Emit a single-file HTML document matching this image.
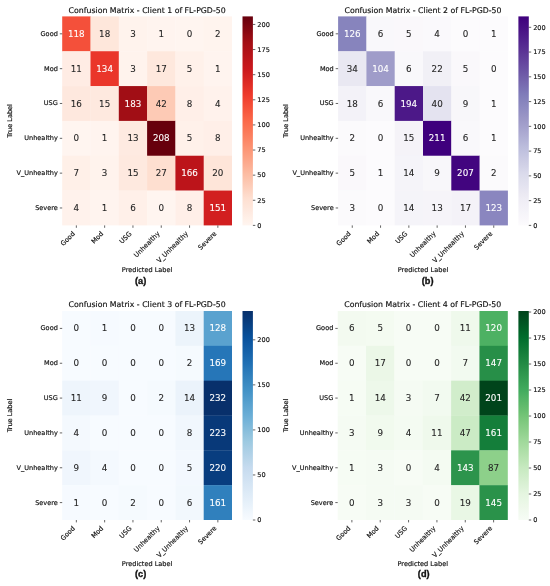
<!DOCTYPE html>
<html lang="en"><head><meta charset="utf-8"><title>Confusion Matrices FL-PGD-50</title>
<style>html,body{margin:0;padding:0;background:#fff}svg{display:block}text{font-family:"DejaVu Sans","Liberation Sans",sans-serif;fill:#111;stroke:#111;stroke-width:0.16px}.t{font-size:7.8px}.k{font-size:6.55px}.l{font-size:6.55px}.a{font-size:8.75px;text-anchor:middle;fill:#262626;stroke:#262626;stroke-width:0.1px}.a.w{fill:#fff;stroke:#fff}.s{font-family:"Liberation Sans",sans-serif;font-weight:bold;font-size:9.2px;text-anchor:middle;fill:#111;stroke:#111;stroke-width:0.35px}.e{text-anchor:end}.m{text-anchor:middle}</style></head><body>
<svg width="550" height="586" viewBox="0 0 550 586">
<rect width="550" height="586" fill="#fff"/>
<defs>
<linearGradient id="g1" x1="0" y1="0" x2="0" y2="1"><stop offset="0" stop-color="#67000d"/><stop offset="0.0312" stop-color="#75030f"/><stop offset="0.0625" stop-color="#840711"/><stop offset="0.0938" stop-color="#940b13"/><stop offset="0.125" stop-color="#a30f15"/><stop offset="0.1562" stop-color="#ad1117"/><stop offset="0.1875" stop-color="#b71319"/><stop offset="0.2188" stop-color="#c1161b"/><stop offset="0.25" stop-color="#ca181d"/><stop offset="0.2812" stop-color="#d32020"/><stop offset="0.3125" stop-color="#dc2924"/><stop offset="0.3438" stop-color="#e53228"/><stop offset="0.375" stop-color="#ee3a2c"/><stop offset="0.4062" stop-color="#f24633"/><stop offset="0.4375" stop-color="#f5523a"/><stop offset="0.4688" stop-color="#f85d42"/><stop offset="0.5" stop-color="#fb694a"/><stop offset="0.5312" stop-color="#fb7353"/><stop offset="0.5625" stop-color="#fb7d5d"/><stop offset="0.5938" stop-color="#fc8767"/><stop offset="0.625" stop-color="#fc9272"/><stop offset="0.6562" stop-color="#fc9c7d"/><stop offset="0.6875" stop-color="#fca689"/><stop offset="0.7188" stop-color="#fcb095"/><stop offset="0.75" stop-color="#fcbba1"/><stop offset="0.7812" stop-color="#fcc4ad"/><stop offset="0.8125" stop-color="#fdcdb9"/><stop offset="0.8438" stop-color="#fdd7c6"/><stop offset="0.875" stop-color="#fee0d2"/><stop offset="0.9062" stop-color="#fee5d9"/><stop offset="0.9375" stop-color="#feeae1"/><stop offset="0.9688" stop-color="#fff0e8"/><stop offset="1" stop-color="#fff5f0"/></linearGradient>
<linearGradient id="g2" x1="0" y1="0" x2="0" y2="1"><stop offset="0" stop-color="#3f007d"/><stop offset="0.0312" stop-color="#440981"/><stop offset="0.0625" stop-color="#491285"/><stop offset="0.0938" stop-color="#4e1c8a"/><stop offset="0.125" stop-color="#53268f"/><stop offset="0.1562" stop-color="#593093"/><stop offset="0.1875" stop-color="#5e3b98"/><stop offset="0.2188" stop-color="#64459e"/><stop offset="0.25" stop-color="#6950a3"/><stop offset="0.2812" stop-color="#6f5ba8"/><stop offset="0.3125" stop-color="#7566ae"/><stop offset="0.3438" stop-color="#7a71b4"/><stop offset="0.375" stop-color="#807cba"/><stop offset="0.4062" stop-color="#8784bd"/><stop offset="0.4375" stop-color="#8e8bc1"/><stop offset="0.4688" stop-color="#9692c4"/><stop offset="0.5" stop-color="#9e9ac8"/><stop offset="0.5312" stop-color="#a5a2cd"/><stop offset="0.5625" stop-color="#adabd2"/><stop offset="0.5938" stop-color="#b4b4d7"/><stop offset="0.625" stop-color="#bcbddc"/><stop offset="0.6562" stop-color="#c3c4e0"/><stop offset="0.6875" stop-color="#cbcbe3"/><stop offset="0.7188" stop-color="#d2d2e7"/><stop offset="0.75" stop-color="#dadaeb"/><stop offset="0.7812" stop-color="#dfdfed"/><stop offset="0.8125" stop-color="#e4e3f0"/><stop offset="0.8438" stop-color="#eae8f2"/><stop offset="0.875" stop-color="#efedf5"/><stop offset="0.9062" stop-color="#f2f0f7"/><stop offset="0.9375" stop-color="#f5f4f9"/><stop offset="0.9688" stop-color="#f9f7fb"/><stop offset="1" stop-color="#fcfbfd"/></linearGradient>
<linearGradient id="g3" x1="0" y1="0" x2="0" y2="1"><stop offset="0" stop-color="#08306b"/><stop offset="0.0312" stop-color="#083776"/><stop offset="0.0625" stop-color="#084082"/><stop offset="0.0938" stop-color="#08488e"/><stop offset="0.125" stop-color="#08509b"/><stop offset="0.1562" stop-color="#0e58a2"/><stop offset="0.1875" stop-color="#1460a8"/><stop offset="0.2188" stop-color="#1a68ae"/><stop offset="0.25" stop-color="#2070b4"/><stop offset="0.2812" stop-color="#2979b9"/><stop offset="0.3125" stop-color="#3181bd"/><stop offset="0.3438" stop-color="#3989c1"/><stop offset="0.375" stop-color="#4191c6"/><stop offset="0.4062" stop-color="#4b98ca"/><stop offset="0.4375" stop-color="#56a0ce"/><stop offset="0.4688" stop-color="#60a7d2"/><stop offset="0.5" stop-color="#6aaed6"/><stop offset="0.5312" stop-color="#77b5d9"/><stop offset="0.5625" stop-color="#84bcdb"/><stop offset="0.5938" stop-color="#91c3de"/><stop offset="0.625" stop-color="#9dcae1"/><stop offset="0.6562" stop-color="#a8cee4"/><stop offset="0.6875" stop-color="#b2d2e8"/><stop offset="0.7188" stop-color="#bcd7eb"/><stop offset="0.75" stop-color="#c6dbef"/><stop offset="0.7812" stop-color="#ccdff1"/><stop offset="0.8125" stop-color="#d2e3f3"/><stop offset="0.8438" stop-color="#d8e7f5"/><stop offset="0.875" stop-color="#deebf7"/><stop offset="0.9062" stop-color="#e4eff9"/><stop offset="0.9375" stop-color="#eaf3fb"/><stop offset="0.9688" stop-color="#f1f7fd"/><stop offset="1" stop-color="#f7fbff"/></linearGradient>
<linearGradient id="g4" x1="0" y1="0" x2="0" y2="1"><stop offset="0" stop-color="#00441b"/><stop offset="0.0312" stop-color="#004d1f"/><stop offset="0.0625" stop-color="#005723"/><stop offset="0.0938" stop-color="#006227"/><stop offset="0.125" stop-color="#006c2c"/><stop offset="0.1562" stop-color="#087432"/><stop offset="0.1875" stop-color="#117b38"/><stop offset="0.2188" stop-color="#19833e"/><stop offset="0.25" stop-color="#228a44"/><stop offset="0.2812" stop-color="#2a924a"/><stop offset="0.3125" stop-color="#319a50"/><stop offset="0.3438" stop-color="#39a257"/><stop offset="0.375" stop-color="#40aa5d"/><stop offset="0.4062" stop-color="#4db163"/><stop offset="0.4375" stop-color="#5ab769"/><stop offset="0.4688" stop-color="#66bd6f"/><stop offset="0.5" stop-color="#73c476"/><stop offset="0.5312" stop-color="#7fc97f"/><stop offset="0.5625" stop-color="#8ace88"/><stop offset="0.5938" stop-color="#95d391"/><stop offset="0.625" stop-color="#a0d99b"/><stop offset="0.6562" stop-color="#aadda4"/><stop offset="0.6875" stop-color="#b4e1ad"/><stop offset="0.7188" stop-color="#bde5b6"/><stop offset="0.75" stop-color="#c7e9c0"/><stop offset="0.7812" stop-color="#ceecc8"/><stop offset="0.8125" stop-color="#d6efd0"/><stop offset="0.8438" stop-color="#ddf2d8"/><stop offset="0.875" stop-color="#e5f5e0"/><stop offset="0.9062" stop-color="#e9f7e5"/><stop offset="0.9375" stop-color="#eef8ea"/><stop offset="0.9688" stop-color="#f2faf0"/><stop offset="1" stop-color="#f7fcf5"/></linearGradient>
</defs>
<g>
<text class="t m" x="147.1" y="12.6">Confusion Matrix - Client 1 of FL-PGD-50</text>
<rect x="62.2" y="16.4" width="28.6" height="35.13" fill="#f4503a"/>
<rect x="90.5" y="16.4" width="28.6" height="35.13" fill="#fee7db"/>
<rect x="118.8" y="16.4" width="28.6" height="35.13" fill="#fff3ed"/>
<rect x="147.1" y="16.4" width="28.6" height="35.13" fill="#fff4ef"/>
<rect x="175.4" y="16.4" width="28.6" height="35.13" fill="#fff5f0"/>
<rect x="203.7" y="16.4" width="28.3" height="35.13" fill="#fff4ee"/>
<rect x="62.2" y="51.23" width="28.6" height="35.13" fill="#ffece4"/>
<rect x="90.5" y="51.23" width="28.6" height="35.13" fill="#ea362a"/>
<rect x="118.8" y="51.23" width="28.6" height="35.13" fill="#fff3ed"/>
<rect x="147.1" y="51.23" width="28.6" height="35.13" fill="#fee8dd"/>
<rect x="175.4" y="51.23" width="28.6" height="35.13" fill="#fff1ea"/>
<rect x="203.7" y="51.23" width="28.3" height="35.13" fill="#fff4ef"/>
<rect x="62.2" y="86.07" width="28.6" height="35.13" fill="#fee8de"/>
<rect x="90.5" y="86.07" width="28.6" height="35.13" fill="#fee9df"/>
<rect x="118.8" y="86.07" width="28.6" height="35.13" fill="#a10e15"/>
<rect x="147.1" y="86.07" width="28.6" height="35.13" fill="#fdcab5"/>
<rect x="175.4" y="86.07" width="28.6" height="35.13" fill="#ffefe8"/>
<rect x="203.7" y="86.07" width="28.3" height="35.13" fill="#fff2ec"/>
<rect x="62.2" y="120.9" width="28.6" height="35.13" fill="#fff5f0"/>
<rect x="90.5" y="120.9" width="28.6" height="35.13" fill="#fff4ef"/>
<rect x="118.8" y="120.9" width="28.6" height="35.13" fill="#feeae1"/>
<rect x="147.1" y="120.9" width="28.6" height="35.13" fill="#67000d"/>
<rect x="175.4" y="120.9" width="28.6" height="35.13" fill="#fff1ea"/>
<rect x="203.7" y="120.9" width="28.3" height="35.13" fill="#ffefe8"/>
<rect x="62.2" y="155.73" width="28.6" height="35.13" fill="#fff0e8"/>
<rect x="90.5" y="155.73" width="28.6" height="35.13" fill="#fff3ed"/>
<rect x="118.8" y="155.73" width="28.6" height="35.13" fill="#fee9df"/>
<rect x="147.1" y="155.73" width="28.6" height="35.13" fill="#fedfd0"/>
<rect x="175.4" y="155.73" width="28.6" height="35.13" fill="#bc141a"/>
<rect x="203.7" y="155.73" width="28.3" height="35.13" fill="#fee5d9"/>
<rect x="62.2" y="190.57" width="28.6" height="34.83" fill="#fff2ec"/>
<rect x="90.5" y="190.57" width="28.6" height="34.83" fill="#fff4ef"/>
<rect x="118.8" y="190.57" width="28.6" height="34.83" fill="#fff0e9"/>
<rect x="147.1" y="190.57" width="28.6" height="34.83" fill="#fff5f0"/>
<rect x="175.4" y="190.57" width="28.6" height="34.83" fill="#ffefe8"/>
<rect x="203.7" y="190.57" width="28.3" height="34.83" fill="#d21f20"/>
<text class="a w" x="76.35" y="36.88">118</text>
<text class="a" x="104.65" y="36.88">18</text>
<text class="a" x="132.95" y="36.88">3</text>
<text class="a" x="161.25" y="36.88">1</text>
<text class="a" x="189.55" y="36.88">0</text>
<text class="a" x="217.85" y="36.88">2</text>
<text class="a" x="76.35" y="71.71">11</text>
<text class="a w" x="104.65" y="71.71">134</text>
<text class="a" x="132.95" y="71.71">3</text>
<text class="a" x="161.25" y="71.71">17</text>
<text class="a" x="189.55" y="71.71">5</text>
<text class="a" x="217.85" y="71.71">1</text>
<text class="a" x="76.35" y="106.55">16</text>
<text class="a" x="104.65" y="106.55">15</text>
<text class="a w" x="132.95" y="106.55">183</text>
<text class="a" x="161.25" y="106.55">42</text>
<text class="a" x="189.55" y="106.55">8</text>
<text class="a" x="217.85" y="106.55">4</text>
<text class="a" x="76.35" y="141.38">0</text>
<text class="a" x="104.65" y="141.38">1</text>
<text class="a" x="132.95" y="141.38">13</text>
<text class="a w" x="161.25" y="141.38">208</text>
<text class="a" x="189.55" y="141.38">5</text>
<text class="a" x="217.85" y="141.38">8</text>
<text class="a" x="76.35" y="176.21">7</text>
<text class="a" x="104.65" y="176.21">3</text>
<text class="a" x="132.95" y="176.21">15</text>
<text class="a" x="161.25" y="176.21">27</text>
<text class="a w" x="189.55" y="176.21">166</text>
<text class="a" x="217.85" y="176.21">20</text>
<text class="a" x="76.35" y="211.05">4</text>
<text class="a" x="104.65" y="211.05">1</text>
<text class="a" x="132.95" y="211.05">6</text>
<text class="a" x="161.25" y="211.05">0</text>
<text class="a" x="189.55" y="211.05">8</text>
<text class="a w" x="217.85" y="211.05">151</text>
<line x1="59.8" x2="62.2" y1="33.82" y2="33.82" stroke="#111" stroke-width="0.65"/>
<text class="k e" x="57.8" y="35.78">Good</text>
<line x1="59.8" x2="62.2" y1="68.65" y2="68.65" stroke="#111" stroke-width="0.65"/>
<text class="k e" x="57.8" y="70.62">Mod</text>
<line x1="59.8" x2="62.2" y1="103.48" y2="103.48" stroke="#111" stroke-width="0.65"/>
<text class="k e" x="57.8" y="105.45">USG</text>
<line x1="59.8" x2="62.2" y1="138.32" y2="138.32" stroke="#111" stroke-width="0.65"/>
<text class="k e" x="57.8" y="140.28">Unhealthy</text>
<line x1="59.8" x2="62.2" y1="173.15" y2="173.15" stroke="#111" stroke-width="0.65"/>
<text class="k e" x="57.8" y="175.12">V_Unhealthy</text>
<line x1="59.8" x2="62.2" y1="207.98" y2="207.98" stroke="#111" stroke-width="0.65"/>
<text class="k e" x="57.8" y="209.95">Severe</text>
<line x1="76.35" x2="76.35" y1="225.4" y2="227.8" stroke="#111" stroke-width="0.65"/>
<text class="k e" transform="translate(76.35,235.09) rotate(-45)" x="0" y="-1.38">Good</text>
<line x1="104.65" x2="104.65" y1="225.4" y2="227.8" stroke="#111" stroke-width="0.65"/>
<text class="k e" transform="translate(104.65,235.09) rotate(-45)" x="0" y="-1.38">Mod</text>
<line x1="132.95" x2="132.95" y1="225.4" y2="227.8" stroke="#111" stroke-width="0.65"/>
<text class="k e" transform="translate(132.95,235.09) rotate(-45)" x="0" y="-1.38">USG</text>
<line x1="161.25" x2="161.25" y1="225.4" y2="227.8" stroke="#111" stroke-width="0.65"/>
<text class="k e" transform="translate(161.25,235.09) rotate(-45)" x="0" y="-1.38">Unhealthy</text>
<line x1="189.55" x2="189.55" y1="225.4" y2="227.8" stroke="#111" stroke-width="0.65"/>
<text class="k e" transform="translate(189.55,235.09) rotate(-45)" x="0" y="-1.38">V_Unhealthy</text>
<line x1="217.85" x2="217.85" y1="225.4" y2="227.8" stroke="#111" stroke-width="0.65"/>
<text class="k e" transform="translate(217.85,235.09) rotate(-45)" x="0" y="-1.38">Severe</text>
<text class="l m" x="147.1" y="271.5">Predicted Label</text>
<text class="l m" transform="translate(12.4,120.9) rotate(-90)">True Label</text>
<rect x="242.5" y="16.4" width="10.4" height="209" fill="url(#g1)"/>
<line x1="252.9" x2="255.3" y1="225.4" y2="225.4" stroke="#111" stroke-width="0.65"/>
<text class="k" x="257.3" y="227.69">0</text>
<line x1="252.9" x2="255.3" y1="200.28" y2="200.28" stroke="#111" stroke-width="0.65"/>
<text class="k" x="257.3" y="202.57">25</text>
<line x1="252.9" x2="255.3" y1="175.16" y2="175.16" stroke="#111" stroke-width="0.65"/>
<text class="k" x="257.3" y="177.45">50</text>
<line x1="252.9" x2="255.3" y1="150.04" y2="150.04" stroke="#111" stroke-width="0.65"/>
<text class="k" x="257.3" y="152.33">75</text>
<line x1="252.9" x2="255.3" y1="124.92" y2="124.92" stroke="#111" stroke-width="0.65"/>
<text class="k" x="257.3" y="127.21">100</text>
<line x1="252.9" x2="255.3" y1="99.8" y2="99.8" stroke="#111" stroke-width="0.65"/>
<text class="k" x="257.3" y="102.09">125</text>
<line x1="252.9" x2="255.3" y1="74.68" y2="74.68" stroke="#111" stroke-width="0.65"/>
<text class="k" x="257.3" y="76.97">150</text>
<line x1="252.9" x2="255.3" y1="49.56" y2="49.56" stroke="#111" stroke-width="0.65"/>
<text class="k" x="257.3" y="51.85">175</text>
<line x1="252.9" x2="255.3" y1="24.44" y2="24.44" stroke="#111" stroke-width="0.65"/>
<text class="k" x="257.3" y="26.73">200</text>
<text class="s" x="140.6" y="284.2">(a)</text>
</g>
<g>
<text class="t m" x="423" y="12.6">Confusion Matrix - Client 2 of FL-PGD-50</text>
<rect x="338.1" y="16.4" width="28.6" height="35.13" fill="#8784bd"/>
<rect x="366.4" y="16.4" width="28.6" height="35.13" fill="#f9f8fb"/>
<rect x="394.7" y="16.4" width="28.6" height="35.13" fill="#faf8fb"/>
<rect x="423" y="16.4" width="28.6" height="35.13" fill="#faf9fc"/>
<rect x="451.3" y="16.4" width="28.6" height="35.13" fill="#fcfbfd"/>
<rect x="479.6" y="16.4" width="28.3" height="35.13" fill="#fcfbfd"/>
<rect x="338.1" y="51.23" width="28.6" height="35.13" fill="#e9e8f2"/>
<rect x="366.4" y="51.23" width="28.6" height="35.13" fill="#9f9cc9"/>
<rect x="394.7" y="51.23" width="28.6" height="35.13" fill="#f9f8fb"/>
<rect x="423" y="51.23" width="28.6" height="35.13" fill="#f1f0f6"/>
<rect x="451.3" y="51.23" width="28.6" height="35.13" fill="#faf8fb"/>
<rect x="479.6" y="51.23" width="28.3" height="35.13" fill="#fcfbfd"/>
<rect x="338.1" y="86.07" width="28.6" height="35.13" fill="#f3f2f8"/>
<rect x="366.4" y="86.07" width="28.6" height="35.13" fill="#f9f8fb"/>
<rect x="394.7" y="86.07" width="28.6" height="35.13" fill="#4c1888"/>
<rect x="423" y="86.07" width="28.6" height="35.13" fill="#e4e3f0"/>
<rect x="451.3" y="86.07" width="28.6" height="35.13" fill="#f8f7fa"/>
<rect x="479.6" y="86.07" width="28.3" height="35.13" fill="#fcfbfd"/>
<rect x="338.1" y="120.9" width="28.6" height="35.13" fill="#fbfafc"/>
<rect x="366.4" y="120.9" width="28.6" height="35.13" fill="#fcfbfd"/>
<rect x="394.7" y="120.9" width="28.6" height="35.13" fill="#f5f3f8"/>
<rect x="423" y="120.9" width="28.6" height="35.13" fill="#3f007d"/>
<rect x="451.3" y="120.9" width="28.6" height="35.13" fill="#f9f8fb"/>
<rect x="479.6" y="120.9" width="28.3" height="35.13" fill="#fcfbfd"/>
<rect x="338.1" y="155.73" width="28.6" height="35.13" fill="#faf8fb"/>
<rect x="366.4" y="155.73" width="28.6" height="35.13" fill="#fcfbfd"/>
<rect x="394.7" y="155.73" width="28.6" height="35.13" fill="#f5f4f9"/>
<rect x="423" y="155.73" width="28.6" height="35.13" fill="#f8f7fa"/>
<rect x="451.3" y="155.73" width="28.6" height="35.13" fill="#42057f"/>
<rect x="479.6" y="155.73" width="28.3" height="35.13" fill="#fbfafc"/>
<rect x="338.1" y="190.57" width="28.6" height="34.83" fill="#fbfafc"/>
<rect x="366.4" y="190.57" width="28.6" height="34.83" fill="#fcfbfd"/>
<rect x="394.7" y="190.57" width="28.6" height="34.83" fill="#f5f4f9"/>
<rect x="423" y="190.57" width="28.6" height="34.83" fill="#f6f4f9"/>
<rect x="451.3" y="190.57" width="28.6" height="34.83" fill="#f4f2f8"/>
<rect x="479.6" y="190.57" width="28.3" height="34.83" fill="#8a86bf"/>
<text class="a w" x="352.25" y="36.88">126</text>
<text class="a" x="380.55" y="36.88">6</text>
<text class="a" x="408.85" y="36.88">5</text>
<text class="a" x="437.15" y="36.88">4</text>
<text class="a" x="465.45" y="36.88">0</text>
<text class="a" x="493.75" y="36.88">1</text>
<text class="a" x="352.25" y="71.71">34</text>
<text class="a w" x="380.55" y="71.71">104</text>
<text class="a" x="408.85" y="71.71">6</text>
<text class="a" x="437.15" y="71.71">22</text>
<text class="a" x="465.45" y="71.71">5</text>
<text class="a" x="493.75" y="71.71">0</text>
<text class="a" x="352.25" y="106.55">18</text>
<text class="a" x="380.55" y="106.55">6</text>
<text class="a w" x="408.85" y="106.55">194</text>
<text class="a" x="437.15" y="106.55">40</text>
<text class="a" x="465.45" y="106.55">9</text>
<text class="a" x="493.75" y="106.55">1</text>
<text class="a" x="352.25" y="141.38">2</text>
<text class="a" x="380.55" y="141.38">0</text>
<text class="a" x="408.85" y="141.38">15</text>
<text class="a w" x="437.15" y="141.38">211</text>
<text class="a" x="465.45" y="141.38">6</text>
<text class="a" x="493.75" y="141.38">1</text>
<text class="a" x="352.25" y="176.21">5</text>
<text class="a" x="380.55" y="176.21">1</text>
<text class="a" x="408.85" y="176.21">14</text>
<text class="a" x="437.15" y="176.21">9</text>
<text class="a w" x="465.45" y="176.21">207</text>
<text class="a" x="493.75" y="176.21">2</text>
<text class="a" x="352.25" y="211.05">3</text>
<text class="a" x="380.55" y="211.05">0</text>
<text class="a" x="408.85" y="211.05">14</text>
<text class="a" x="437.15" y="211.05">13</text>
<text class="a" x="465.45" y="211.05">17</text>
<text class="a w" x="493.75" y="211.05">123</text>
<line x1="335.7" x2="338.1" y1="33.82" y2="33.82" stroke="#111" stroke-width="0.65"/>
<text class="k e" x="333.7" y="35.78">Good</text>
<line x1="335.7" x2="338.1" y1="68.65" y2="68.65" stroke="#111" stroke-width="0.65"/>
<text class="k e" x="333.7" y="70.62">Mod</text>
<line x1="335.7" x2="338.1" y1="103.48" y2="103.48" stroke="#111" stroke-width="0.65"/>
<text class="k e" x="333.7" y="105.45">USG</text>
<line x1="335.7" x2="338.1" y1="138.32" y2="138.32" stroke="#111" stroke-width="0.65"/>
<text class="k e" x="333.7" y="140.28">Unhealthy</text>
<line x1="335.7" x2="338.1" y1="173.15" y2="173.15" stroke="#111" stroke-width="0.65"/>
<text class="k e" x="333.7" y="175.12">V_Unhealthy</text>
<line x1="335.7" x2="338.1" y1="207.98" y2="207.98" stroke="#111" stroke-width="0.65"/>
<text class="k e" x="333.7" y="209.95">Severe</text>
<line x1="352.25" x2="352.25" y1="225.4" y2="227.8" stroke="#111" stroke-width="0.65"/>
<text class="k e" transform="translate(352.25,235.09) rotate(-45)" x="0" y="-1.38">Good</text>
<line x1="380.55" x2="380.55" y1="225.4" y2="227.8" stroke="#111" stroke-width="0.65"/>
<text class="k e" transform="translate(380.55,235.09) rotate(-45)" x="0" y="-1.38">Mod</text>
<line x1="408.85" x2="408.85" y1="225.4" y2="227.8" stroke="#111" stroke-width="0.65"/>
<text class="k e" transform="translate(408.85,235.09) rotate(-45)" x="0" y="-1.38">USG</text>
<line x1="437.15" x2="437.15" y1="225.4" y2="227.8" stroke="#111" stroke-width="0.65"/>
<text class="k e" transform="translate(437.15,235.09) rotate(-45)" x="0" y="-1.38">Unhealthy</text>
<line x1="465.45" x2="465.45" y1="225.4" y2="227.8" stroke="#111" stroke-width="0.65"/>
<text class="k e" transform="translate(465.45,235.09) rotate(-45)" x="0" y="-1.38">V_Unhealthy</text>
<line x1="493.75" x2="493.75" y1="225.4" y2="227.8" stroke="#111" stroke-width="0.65"/>
<text class="k e" transform="translate(493.75,235.09) rotate(-45)" x="0" y="-1.38">Severe</text>
<text class="l m" x="423" y="271.5">Predicted Label</text>
<text class="l m" transform="translate(288.3,120.9) rotate(-90)">True Label</text>
<rect x="518.4" y="16.4" width="10.4" height="209" fill="url(#g2)"/>
<line x1="528.8" x2="531.2" y1="225.4" y2="225.4" stroke="#111" stroke-width="0.65"/>
<text class="k" x="533.2" y="227.69">0</text>
<line x1="528.8" x2="531.2" y1="200.64" y2="200.64" stroke="#111" stroke-width="0.65"/>
<text class="k" x="533.2" y="202.93">25</text>
<line x1="528.8" x2="531.2" y1="175.87" y2="175.87" stroke="#111" stroke-width="0.65"/>
<text class="k" x="533.2" y="178.17">50</text>
<line x1="528.8" x2="531.2" y1="151.11" y2="151.11" stroke="#111" stroke-width="0.65"/>
<text class="k" x="533.2" y="153.4">75</text>
<line x1="528.8" x2="531.2" y1="126.35" y2="126.35" stroke="#111" stroke-width="0.65"/>
<text class="k" x="533.2" y="128.64">100</text>
<line x1="528.8" x2="531.2" y1="101.58" y2="101.58" stroke="#111" stroke-width="0.65"/>
<text class="k" x="533.2" y="103.88">125</text>
<line x1="528.8" x2="531.2" y1="76.82" y2="76.82" stroke="#111" stroke-width="0.65"/>
<text class="k" x="533.2" y="79.11">150</text>
<line x1="528.8" x2="531.2" y1="52.06" y2="52.06" stroke="#111" stroke-width="0.65"/>
<text class="k" x="533.2" y="54.35">175</text>
<line x1="528.8" x2="531.2" y1="27.3" y2="27.3" stroke="#111" stroke-width="0.65"/>
<text class="k" x="533.2" y="29.59">200</text>
<text class="s" x="427.65" y="284.2">(b)</text>
</g>
<g>
<text class="t m" x="147.1" y="307.2">Confusion Matrix - Client 3 of FL-PGD-50</text>
<rect x="62.2" y="311" width="28.6" height="35.13" fill="#f7fbff"/>
<rect x="90.5" y="311" width="28.6" height="35.13" fill="#f6faff"/>
<rect x="118.8" y="311" width="28.6" height="35.13" fill="#f7fbff"/>
<rect x="147.1" y="311" width="28.6" height="35.13" fill="#f7fbff"/>
<rect x="175.4" y="311" width="28.6" height="35.13" fill="#ecf4fb"/>
<rect x="203.7" y="311" width="28.3" height="35.13" fill="#5aa2cf"/>
<rect x="62.2" y="345.83" width="28.6" height="35.13" fill="#f7fbff"/>
<rect x="90.5" y="345.83" width="28.6" height="35.13" fill="#f7fbff"/>
<rect x="118.8" y="345.83" width="28.6" height="35.13" fill="#f7fbff"/>
<rect x="147.1" y="345.83" width="28.6" height="35.13" fill="#f7fbff"/>
<rect x="175.4" y="345.83" width="28.6" height="35.13" fill="#f5fafe"/>
<rect x="203.7" y="345.83" width="28.3" height="35.13" fill="#2676b8"/>
<rect x="62.2" y="380.67" width="28.6" height="35.13" fill="#eef5fc"/>
<rect x="90.5" y="380.67" width="28.6" height="35.13" fill="#f0f6fd"/>
<rect x="118.8" y="380.67" width="28.6" height="35.13" fill="#f7fbff"/>
<rect x="147.1" y="380.67" width="28.6" height="35.13" fill="#f5fafe"/>
<rect x="175.4" y="380.67" width="28.6" height="35.13" fill="#ebf3fb"/>
<rect x="203.7" y="380.67" width="28.3" height="35.13" fill="#08306b"/>
<rect x="62.2" y="415.5" width="28.6" height="35.13" fill="#f4f9fe"/>
<rect x="90.5" y="415.5" width="28.6" height="35.13" fill="#f7fbff"/>
<rect x="118.8" y="415.5" width="28.6" height="35.13" fill="#f7fbff"/>
<rect x="147.1" y="415.5" width="28.6" height="35.13" fill="#f7fbff"/>
<rect x="175.4" y="415.5" width="28.6" height="35.13" fill="#f1f7fd"/>
<rect x="203.7" y="415.5" width="28.3" height="35.13" fill="#083979"/>
<rect x="62.2" y="450.33" width="28.6" height="35.13" fill="#f0f6fd"/>
<rect x="90.5" y="450.33" width="28.6" height="35.13" fill="#f4f9fe"/>
<rect x="118.8" y="450.33" width="28.6" height="35.13" fill="#f7fbff"/>
<rect x="147.1" y="450.33" width="28.6" height="35.13" fill="#f7fbff"/>
<rect x="175.4" y="450.33" width="28.6" height="35.13" fill="#f3f8fe"/>
<rect x="203.7" y="450.33" width="28.3" height="35.13" fill="#083d7f"/>
<rect x="62.2" y="485.17" width="28.6" height="34.83" fill="#f6faff"/>
<rect x="90.5" y="485.17" width="28.6" height="34.83" fill="#f7fbff"/>
<rect x="118.8" y="485.17" width="28.6" height="34.83" fill="#f5fafe"/>
<rect x="147.1" y="485.17" width="28.6" height="34.83" fill="#f7fbff"/>
<rect x="175.4" y="485.17" width="28.6" height="34.83" fill="#f2f8fd"/>
<rect x="203.7" y="485.17" width="28.3" height="34.83" fill="#3080bd"/>
<text class="a" x="76.35" y="331.48">0</text>
<text class="a" x="104.65" y="331.48">1</text>
<text class="a" x="132.95" y="331.48">0</text>
<text class="a" x="161.25" y="331.48">0</text>
<text class="a" x="189.55" y="331.48">13</text>
<text class="a w" x="217.85" y="331.48">128</text>
<text class="a" x="76.35" y="366.31">0</text>
<text class="a" x="104.65" y="366.31">0</text>
<text class="a" x="132.95" y="366.31">0</text>
<text class="a" x="161.25" y="366.31">0</text>
<text class="a" x="189.55" y="366.31">2</text>
<text class="a w" x="217.85" y="366.31">169</text>
<text class="a" x="76.35" y="401.15">11</text>
<text class="a" x="104.65" y="401.15">9</text>
<text class="a" x="132.95" y="401.15">0</text>
<text class="a" x="161.25" y="401.15">2</text>
<text class="a" x="189.55" y="401.15">14</text>
<text class="a w" x="217.85" y="401.15">232</text>
<text class="a" x="76.35" y="435.98">4</text>
<text class="a" x="104.65" y="435.98">0</text>
<text class="a" x="132.95" y="435.98">0</text>
<text class="a" x="161.25" y="435.98">0</text>
<text class="a" x="189.55" y="435.98">8</text>
<text class="a w" x="217.85" y="435.98">223</text>
<text class="a" x="76.35" y="470.81">9</text>
<text class="a" x="104.65" y="470.81">4</text>
<text class="a" x="132.95" y="470.81">0</text>
<text class="a" x="161.25" y="470.81">0</text>
<text class="a" x="189.55" y="470.81">5</text>
<text class="a w" x="217.85" y="470.81">220</text>
<text class="a" x="76.35" y="505.65">1</text>
<text class="a" x="104.65" y="505.65">0</text>
<text class="a" x="132.95" y="505.65">2</text>
<text class="a" x="161.25" y="505.65">0</text>
<text class="a" x="189.55" y="505.65">6</text>
<text class="a w" x="217.85" y="505.65">161</text>
<line x1="59.8" x2="62.2" y1="328.42" y2="328.42" stroke="#111" stroke-width="0.65"/>
<text class="k e" x="57.8" y="330.38">Good</text>
<line x1="59.8" x2="62.2" y1="363.25" y2="363.25" stroke="#111" stroke-width="0.65"/>
<text class="k e" x="57.8" y="365.21">Mod</text>
<line x1="59.8" x2="62.2" y1="398.08" y2="398.08" stroke="#111" stroke-width="0.65"/>
<text class="k e" x="57.8" y="400.05">USG</text>
<line x1="59.8" x2="62.2" y1="432.92" y2="432.92" stroke="#111" stroke-width="0.65"/>
<text class="k e" x="57.8" y="434.88">Unhealthy</text>
<line x1="59.8" x2="62.2" y1="467.75" y2="467.75" stroke="#111" stroke-width="0.65"/>
<text class="k e" x="57.8" y="469.71">V_Unhealthy</text>
<line x1="59.8" x2="62.2" y1="502.58" y2="502.58" stroke="#111" stroke-width="0.65"/>
<text class="k e" x="57.8" y="504.55">Severe</text>
<line x1="76.35" x2="76.35" y1="520" y2="522.4" stroke="#111" stroke-width="0.65"/>
<text class="k e" transform="translate(76.35,529.69) rotate(-45)" x="0" y="-1.38">Good</text>
<line x1="104.65" x2="104.65" y1="520" y2="522.4" stroke="#111" stroke-width="0.65"/>
<text class="k e" transform="translate(104.65,529.69) rotate(-45)" x="0" y="-1.38">Mod</text>
<line x1="132.95" x2="132.95" y1="520" y2="522.4" stroke="#111" stroke-width="0.65"/>
<text class="k e" transform="translate(132.95,529.69) rotate(-45)" x="0" y="-1.38">USG</text>
<line x1="161.25" x2="161.25" y1="520" y2="522.4" stroke="#111" stroke-width="0.65"/>
<text class="k e" transform="translate(161.25,529.69) rotate(-45)" x="0" y="-1.38">Unhealthy</text>
<line x1="189.55" x2="189.55" y1="520" y2="522.4" stroke="#111" stroke-width="0.65"/>
<text class="k e" transform="translate(189.55,529.69) rotate(-45)" x="0" y="-1.38">V_Unhealthy</text>
<line x1="217.85" x2="217.85" y1="520" y2="522.4" stroke="#111" stroke-width="0.65"/>
<text class="k e" transform="translate(217.85,529.69) rotate(-45)" x="0" y="-1.38">Severe</text>
<text class="l m" x="147.1" y="566.4">Predicted Label</text>
<text class="l m" transform="translate(12.4,415.5) rotate(-90)">True Label</text>
<rect x="242.5" y="311" width="10.4" height="209" fill="url(#g3)"/>
<line x1="252.9" x2="255.3" y1="520" y2="520" stroke="#111" stroke-width="0.65"/>
<text class="k" x="257.3" y="522.29">0</text>
<line x1="252.9" x2="255.3" y1="474.96" y2="474.96" stroke="#111" stroke-width="0.65"/>
<text class="k" x="257.3" y="477.25">50</text>
<line x1="252.9" x2="255.3" y1="429.91" y2="429.91" stroke="#111" stroke-width="0.65"/>
<text class="k" x="257.3" y="432.21">100</text>
<line x1="252.9" x2="255.3" y1="384.87" y2="384.87" stroke="#111" stroke-width="0.65"/>
<text class="k" x="257.3" y="387.16">150</text>
<line x1="252.9" x2="255.3" y1="339.83" y2="339.83" stroke="#111" stroke-width="0.65"/>
<text class="k" x="257.3" y="342.12">200</text>
<text class="s" x="140.6" y="577.4">(c)</text>
</g>
<g>
<text class="t m" x="422.75" y="307.2">Confusion Matrix - Client 4 of FL-PGD-50</text>
<rect x="337.7" y="311" width="28.65" height="35.13" fill="#f3faf0"/>
<rect x="366.05" y="311" width="28.65" height="35.13" fill="#f4fbf1"/>
<rect x="394.4" y="311" width="28.65" height="35.13" fill="#f7fcf5"/>
<rect x="422.75" y="311" width="28.65" height="35.13" fill="#f7fcf5"/>
<rect x="451.1" y="311" width="28.65" height="35.13" fill="#eff9ec"/>
<rect x="479.45" y="311" width="28.35" height="35.13" fill="#4db163"/>
<rect x="337.7" y="345.83" width="28.65" height="35.13" fill="#f7fcf5"/>
<rect x="366.05" y="345.83" width="28.65" height="35.13" fill="#ebf7e7"/>
<rect x="394.4" y="345.83" width="28.65" height="35.13" fill="#f7fcf5"/>
<rect x="422.75" y="345.83" width="28.65" height="35.13" fill="#f7fcf5"/>
<rect x="451.1" y="345.83" width="28.65" height="35.13" fill="#f2faf0"/>
<rect x="479.45" y="345.83" width="28.35" height="35.13" fill="#278f48"/>
<rect x="337.7" y="380.67" width="28.65" height="35.13" fill="#f6fcf4"/>
<rect x="366.05" y="380.67" width="28.65" height="35.13" fill="#edf8ea"/>
<rect x="394.4" y="380.67" width="28.65" height="35.13" fill="#f5fbf3"/>
<rect x="422.75" y="380.67" width="28.65" height="35.13" fill="#f2faf0"/>
<rect x="451.1" y="380.67" width="28.65" height="35.13" fill="#d1edcb"/>
<rect x="479.45" y="380.67" width="28.35" height="35.13" fill="#00441b"/>
<rect x="337.7" y="415.5" width="28.65" height="35.13" fill="#f5fbf3"/>
<rect x="366.05" y="415.5" width="28.65" height="35.13" fill="#f1faee"/>
<rect x="394.4" y="415.5" width="28.65" height="35.13" fill="#f4fbf2"/>
<rect x="422.75" y="415.5" width="28.65" height="35.13" fill="#eff9ec"/>
<rect x="451.1" y="415.5" width="28.65" height="35.13" fill="#cbebc5"/>
<rect x="479.45" y="415.5" width="28.35" height="35.13" fill="#147e3a"/>
<rect x="337.7" y="450.33" width="28.65" height="35.13" fill="#f6fcf4"/>
<rect x="366.05" y="450.33" width="28.65" height="35.13" fill="#f5fbf3"/>
<rect x="394.4" y="450.33" width="28.65" height="35.13" fill="#f7fcf5"/>
<rect x="422.75" y="450.33" width="28.65" height="35.13" fill="#f4fbf2"/>
<rect x="451.1" y="450.33" width="28.65" height="35.13" fill="#2c944c"/>
<rect x="479.45" y="450.33" width="28.35" height="35.13" fill="#8dd08a"/>
<rect x="337.7" y="485.17" width="28.65" height="34.83" fill="#f7fcf5"/>
<rect x="366.05" y="485.17" width="28.65" height="34.83" fill="#f5fbf3"/>
<rect x="394.4" y="485.17" width="28.65" height="34.83" fill="#f5fbf3"/>
<rect x="422.75" y="485.17" width="28.65" height="34.83" fill="#f7fcf5"/>
<rect x="451.1" y="485.17" width="28.65" height="34.83" fill="#e9f7e5"/>
<rect x="479.45" y="485.17" width="28.35" height="34.83" fill="#2a924a"/>
<text class="a" x="351.88" y="331.48">6</text>
<text class="a" x="380.23" y="331.48">5</text>
<text class="a" x="408.57" y="331.48">0</text>
<text class="a" x="436.93" y="331.48">0</text>
<text class="a" x="465.27" y="331.48">11</text>
<text class="a w" x="493.62" y="331.48">120</text>
<text class="a" x="351.88" y="366.31">0</text>
<text class="a" x="380.23" y="366.31">17</text>
<text class="a" x="408.57" y="366.31">0</text>
<text class="a" x="436.93" y="366.31">0</text>
<text class="a" x="465.27" y="366.31">7</text>
<text class="a w" x="493.62" y="366.31">147</text>
<text class="a" x="351.88" y="401.15">1</text>
<text class="a" x="380.23" y="401.15">14</text>
<text class="a" x="408.57" y="401.15">3</text>
<text class="a" x="436.93" y="401.15">7</text>
<text class="a" x="465.27" y="401.15">42</text>
<text class="a w" x="493.62" y="401.15">201</text>
<text class="a" x="351.88" y="435.98">3</text>
<text class="a" x="380.23" y="435.98">9</text>
<text class="a" x="408.57" y="435.98">4</text>
<text class="a" x="436.93" y="435.98">11</text>
<text class="a" x="465.27" y="435.98">47</text>
<text class="a w" x="493.62" y="435.98">161</text>
<text class="a" x="351.88" y="470.81">1</text>
<text class="a" x="380.23" y="470.81">3</text>
<text class="a" x="408.57" y="470.81">0</text>
<text class="a" x="436.93" y="470.81">4</text>
<text class="a w" x="465.27" y="470.81">143</text>
<text class="a" x="493.62" y="470.81">87</text>
<text class="a" x="351.88" y="505.65">0</text>
<text class="a" x="380.23" y="505.65">3</text>
<text class="a" x="408.57" y="505.65">3</text>
<text class="a" x="436.93" y="505.65">0</text>
<text class="a" x="465.27" y="505.65">19</text>
<text class="a w" x="493.62" y="505.65">145</text>
<line x1="335.3" x2="337.7" y1="328.42" y2="328.42" stroke="#111" stroke-width="0.65"/>
<text class="k e" x="333.3" y="330.38">Good</text>
<line x1="335.3" x2="337.7" y1="363.25" y2="363.25" stroke="#111" stroke-width="0.65"/>
<text class="k e" x="333.3" y="365.21">Mod</text>
<line x1="335.3" x2="337.7" y1="398.08" y2="398.08" stroke="#111" stroke-width="0.65"/>
<text class="k e" x="333.3" y="400.05">USG</text>
<line x1="335.3" x2="337.7" y1="432.92" y2="432.92" stroke="#111" stroke-width="0.65"/>
<text class="k e" x="333.3" y="434.88">Unhealthy</text>
<line x1="335.3" x2="337.7" y1="467.75" y2="467.75" stroke="#111" stroke-width="0.65"/>
<text class="k e" x="333.3" y="469.71">V_Unhealthy</text>
<line x1="335.3" x2="337.7" y1="502.58" y2="502.58" stroke="#111" stroke-width="0.65"/>
<text class="k e" x="333.3" y="504.55">Severe</text>
<line x1="351.88" x2="351.88" y1="520" y2="522.4" stroke="#111" stroke-width="0.65"/>
<text class="k e" transform="translate(351.88,529.69) rotate(-45)" x="0" y="-1.38">Good</text>
<line x1="380.23" x2="380.23" y1="520" y2="522.4" stroke="#111" stroke-width="0.65"/>
<text class="k e" transform="translate(380.23,529.69) rotate(-45)" x="0" y="-1.38">Mod</text>
<line x1="408.57" x2="408.57" y1="520" y2="522.4" stroke="#111" stroke-width="0.65"/>
<text class="k e" transform="translate(408.57,529.69) rotate(-45)" x="0" y="-1.38">USG</text>
<line x1="436.93" x2="436.93" y1="520" y2="522.4" stroke="#111" stroke-width="0.65"/>
<text class="k e" transform="translate(436.93,529.69) rotate(-45)" x="0" y="-1.38">Unhealthy</text>
<line x1="465.27" x2="465.27" y1="520" y2="522.4" stroke="#111" stroke-width="0.65"/>
<text class="k e" transform="translate(465.27,529.69) rotate(-45)" x="0" y="-1.38">V_Unhealthy</text>
<line x1="493.62" x2="493.62" y1="520" y2="522.4" stroke="#111" stroke-width="0.65"/>
<text class="k e" transform="translate(493.62,529.69) rotate(-45)" x="0" y="-1.38">Severe</text>
<text class="l m" x="422.75" y="566.4">Predicted Label</text>
<text class="l m" transform="translate(288.3,415.5) rotate(-90)">True Label</text>
<rect x="518.4" y="311" width="10.4" height="209" fill="url(#g4)"/>
<line x1="528.8" x2="531.2" y1="520" y2="520" stroke="#111" stroke-width="0.65"/>
<text class="k" x="533.2" y="522.29">0</text>
<line x1="528.8" x2="531.2" y1="494" y2="494" stroke="#111" stroke-width="0.65"/>
<text class="k" x="533.2" y="496.3">25</text>
<line x1="528.8" x2="531.2" y1="468.01" y2="468.01" stroke="#111" stroke-width="0.65"/>
<text class="k" x="533.2" y="470.3">50</text>
<line x1="528.8" x2="531.2" y1="442.01" y2="442.01" stroke="#111" stroke-width="0.65"/>
<text class="k" x="533.2" y="444.31">75</text>
<line x1="528.8" x2="531.2" y1="416.02" y2="416.02" stroke="#111" stroke-width="0.65"/>
<text class="k" x="533.2" y="418.31">100</text>
<line x1="528.8" x2="531.2" y1="390.02" y2="390.02" stroke="#111" stroke-width="0.65"/>
<text class="k" x="533.2" y="392.32">125</text>
<line x1="528.8" x2="531.2" y1="364.03" y2="364.03" stroke="#111" stroke-width="0.65"/>
<text class="k" x="533.2" y="366.32">150</text>
<line x1="528.8" x2="531.2" y1="338.03" y2="338.03" stroke="#111" stroke-width="0.65"/>
<text class="k" x="533.2" y="340.33">175</text>
<line x1="528.8" x2="531.2" y1="312.04" y2="312.04" stroke="#111" stroke-width="0.65"/>
<text class="k" x="533.2" y="314.33">200</text>
<text class="s" x="423.7" y="577.4">(d)</text>
</g>
</svg></body></html>
